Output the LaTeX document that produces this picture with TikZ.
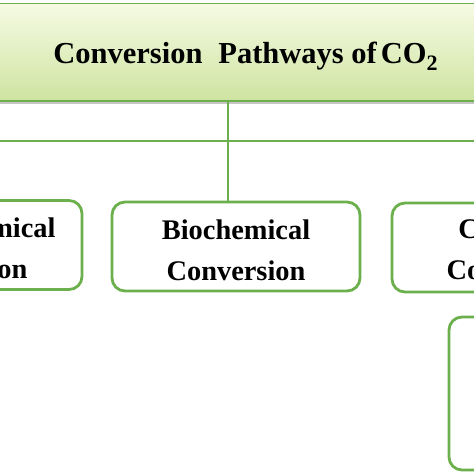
\documentclass[tikz,border=0pt]{standalone}
\usepackage{fontspec}
\setmainfont{Liberation Serif}
\usetikzlibrary{shadows}
\definecolor{lgreen}{RGB}{108,176,78}
\definecolor{tTop}{RGB}{246,250,228}
\definecolor{tBot}{RGB}{206,228,160}
\begin{document}
\begin{tikzpicture}[x=1pt,y=-1pt,
  boxnode/.style={draw=lgreen, line width=2.8pt, rounded corners=13pt, minimum width=248pt, minimum height=89pt, inner sep=0pt},
  boxtext/.style={font=\fontsize{28.4}{41}\selectfont\bfseries, align=center, inner sep=0pt},
  link/.style={draw=lgreen, line width=2.2pt}]
\useasboundingbox (0,0) rectangle (474,474);
\clip (0,0) rectangle (474,474);
% title
\node[draw=lgreen, line width=1.8pt, top color=tTop, bottom color=tBot, minimum width=520pt, minimum height=97.5pt, inner sep=0pt,
      drop shadow={shadow xshift=0pt, shadow yshift=-3pt, opacity=0.45, fill=black!50}] (title) at (237,52.25) {};
\node[anchor=base, inner sep=0pt, font=\fontsize{30.5}{31}\selectfont\bfseries] (ttext) at (245.5,63)
  {Conversion\hspace{16pt}Pathways of\hspace{4pt}CO\raisebox{-7pt}{\fontsize{22}{22}\selectfont 2}};
% boxes
\node[boxnode] (left) at (-42,245) {};
\node[boxnode] (bio) at (236,246.5) {};
\node[boxnode] (chem) at (516,247.5) {};
\node[boxnode, minimum height=153pt] (lower) at (573,393.5) {};
\node[boxtext] (lefttext) at (-42,248.5) {Electrochemical\\Conversion};
\node[boxtext] (biotext) at (236,250) {Biochemical\\Conversion};
\node[boxtext] (chemtext) at (516,249) {Chemical\\Conversion};
% connectors
\coordinate (j) at (228,141);
\coordinate (hl) at (-20,141);
\coordinate (hr) at (494,141);
\draw[link] (hl) -- (hr);
\draw[link] (title.south -| j) -- (j) -- (bio.north -| j);
\end{tikzpicture}
\end{document}
